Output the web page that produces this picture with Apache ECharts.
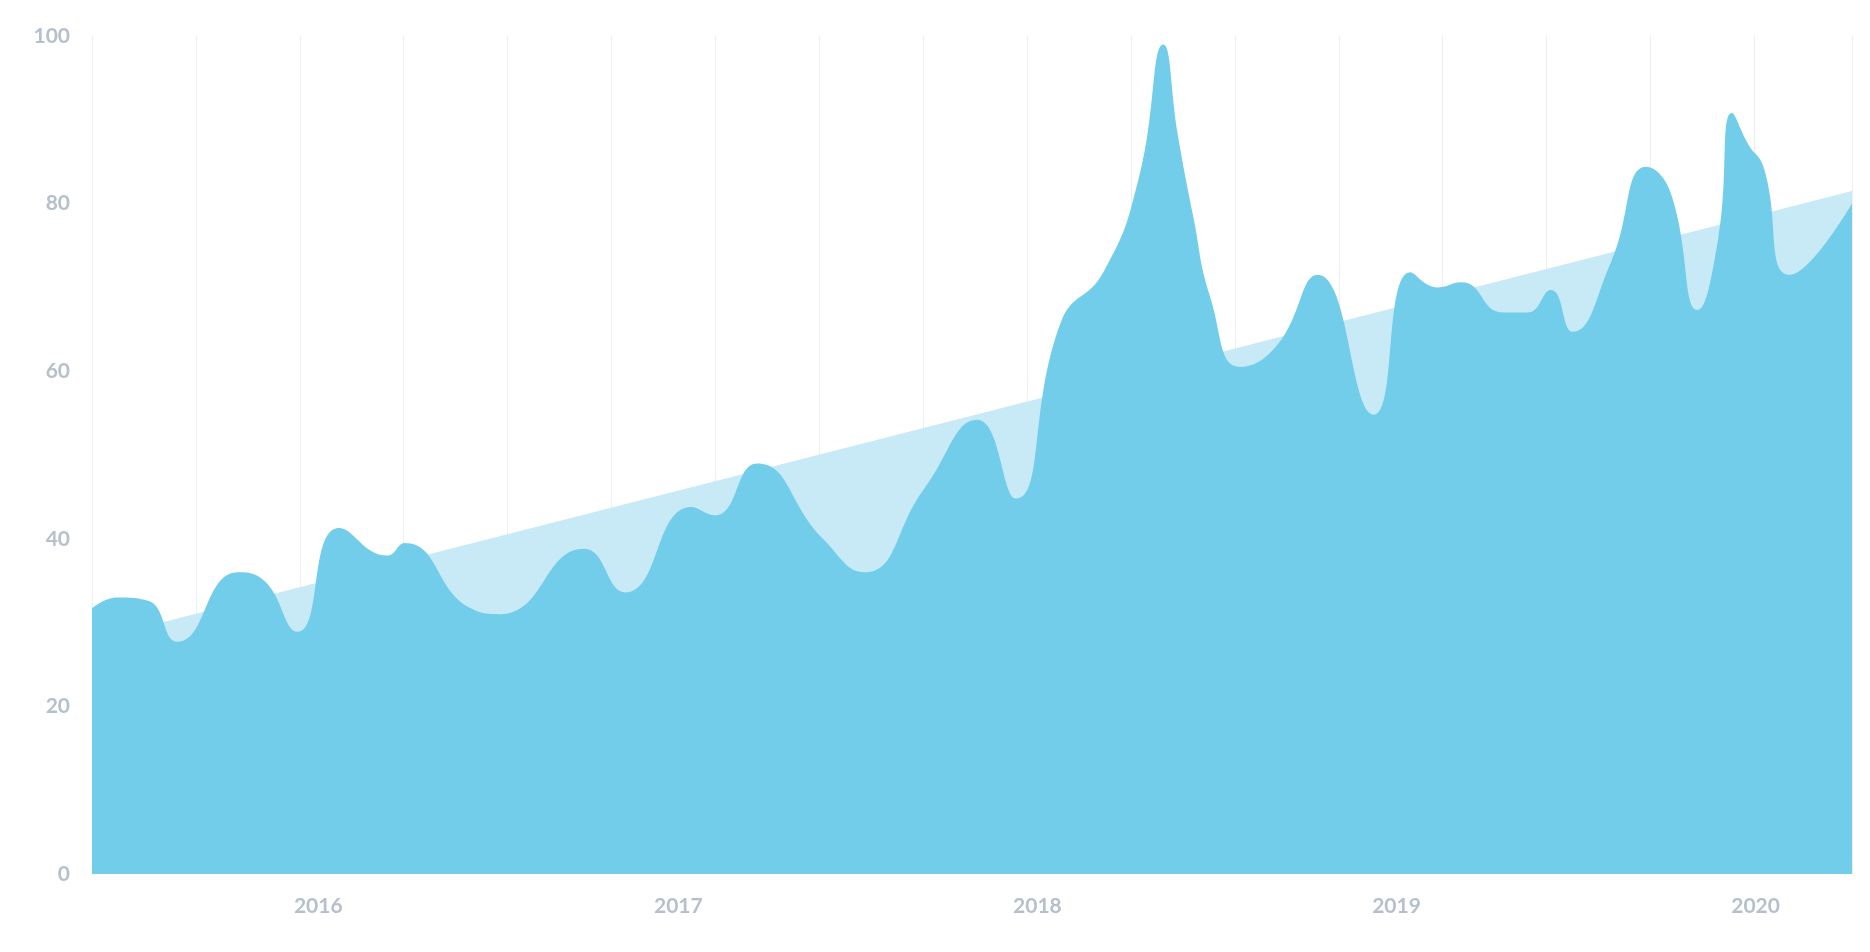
<!DOCTYPE html>
<html>
<head>
<meta charset="utf-8">
<script src="https://cdn.jsdelivr.net/npm/echarts@6/dist/echarts.min.js"></script>
<style>html,body{margin:0;padding:0;background:#fff}#c{width:1870px;height:952px}</style>
</head>
<body>
<div id="c"></div>
<script>
var dates = ['2015-05-16','2015-06-11','2015-07-12','2015-08-11','2015-10-11','2015-11-04','2015-12-11',
  '2016-01-22','2016-03-11','2016-03-29','2016-06-04','2016-07-04','2016-09-27','2016-11-08',
  '2017-01-14','2017-02-07','2017-03-22','2017-05-28','2017-07-09','2017-09-08','2017-11-01','2017-12-10',
  '2018-01-25','2018-03-09','2018-04-14','2018-05-09','2018-05-24','2018-06-08','2018-06-26','2018-07-26',
  '2018-09-01','2018-10-13','2018-12-09','2019-01-15','2019-02-12','2019-03-08','2019-04-19','2019-05-14',
  '2019-06-07','2019-06-29','2019-08-07','2019-09-12','2019-10-06','2019-11-03','2019-11-24','2019-12-08',
  '2019-12-25','2020-01-09','2020-02-05','2020-04-08'];
var values = [31.7,33,32.6,27.7,36,35.3,28.9,
  41.3,38,39.5,31.7,31,38.8,33.6,
  43.8,42.8,49,40,36,46,54.2,44.8,
  65.9,71.8,83,99,88,78.7,68.7,60.5,
  63,71.5,54.8,71.8,70,70.6,67,67,
  69.7,64.7,73,84.4,81.5,67.3,75.8,90.8,
  87,84.4,71.5,80];
var trendDates = ['2015-05-16','2020-04-08'];
var trendValues = [27.9,81.5];

var labelStyle = {color:'#b5c0cc', fontSize:21, fontWeight:'bold', fontFamily:'Lato'};
var chart = echarts.init(document.getElementById('c'));
chart.setOption({
  animation:false,
  grid:{left:92, right:18, top:36, bottom:78},
  xAxis:[{
    type:'time', min:dates[0], max:dates[dates.length-1],
    axisLine:{show:false}, axisTick:{show:false}, splitLine:{show:false},
    axisLabel:Object.assign({margin:22, hideOverlap:false,
      formatter:function(v){var d=new Date(v);return (d.getMonth()===0&&d.getDate()===1)?String(d.getFullYear()):'';}
    }, labelStyle)
  },{
    type:'value', min:0, max:16.94, interval:1, position:'top',
    axisLine:{show:false}, axisTick:{show:false}, axisLabel:{show:false},
    splitLine:{show:true, lineStyle:{color:'#eeeeee', width:1}}
  }],
  yAxis:{type:'value', min:0, max:100, interval:20,
    axisLine:{show:false}, axisTick:{show:false}, splitLine:{show:false},
    axisLabel:Object.assign({margin:22}, labelStyle)},
  series:[{
    type:'line', xAxisIndex:0, data:trendDates.map(function(d,i){return [d,trendValues[i]];}),
    symbol:'none', lineStyle:{width:0}, areaStyle:{color:'#c7eaf6', opacity:1}, z:2
  },{
    type:'line', xAxisIndex:0, data:dates.map(function(d,i){return [d,values[i]];}),
    smooth:0.5, symbol:'none', lineStyle:{width:0}, areaStyle:{color:'#72cdeb', opacity:1}, z:3
  }]
});
</script>
</body>
</html>
